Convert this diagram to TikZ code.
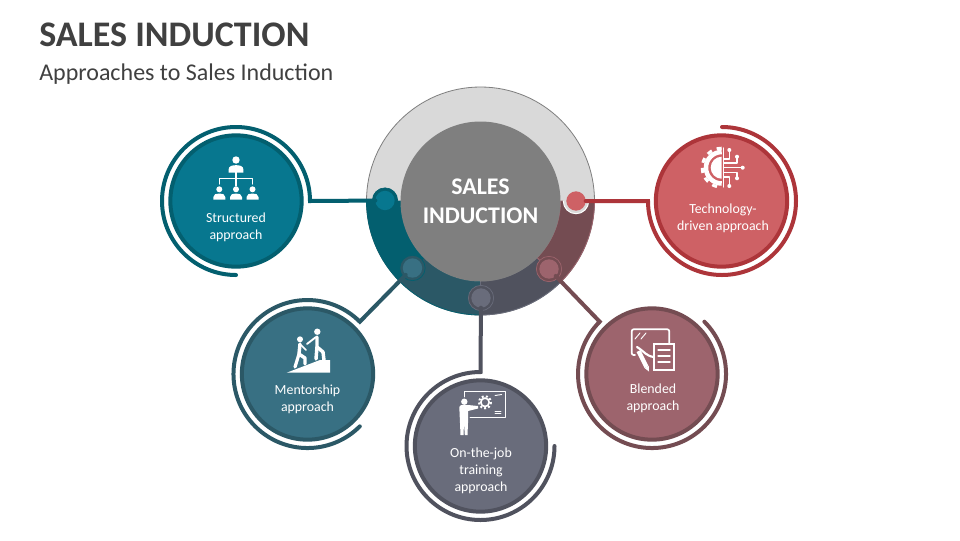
\documentclass[tikz,border=0pt]{standalone}
\usepackage{fontspec}
\setmainfont{Carlito}
\usetikzlibrary{calc}

\definecolor{tealdisc}{HTML}{07778F}
\definecolor{tealdark}{HTML}{035F6F}
\definecolor{mentordisc}{HTML}{387083}
\definecolor{mentordark}{HTML}{2B5866}
\definecolor{trainingdisc}{HTML}{696C7B}
\definecolor{trainingdark}{HTML}{50525E}
\definecolor{blendeddisc}{HTML}{9D646D}
\definecolor{blendeddark}{HTML}{744C52}
\definecolor{techdisc}{HTML}{CE6165}
\definecolor{techdark}{HTML}{AD353A}
\definecolor{hublight}{HTML}{D9D9D9}
\definecolor{hubgray}{HTML}{7F7F7F}
\definecolor{titlegray}{HTML}{404040}

\tikzset{
  disc/.style={circle, draw=#1, line width=3pt, minimum size=98.5pt, inner sep=0pt},
  hubdot/.style={circle, minimum size=14.5pt, inner sep=0pt, outer sep=0pt},
  blob/.style={circle, minimum size=19pt, inner sep=0pt, outer sep=0pt, line width=0.5pt},
  ring/.style={draw=#1, line width=3pt, line cap=round, line join=miter},
  approach/.style={text=white, align=center, inner sep=0pt, font=\fontsize{10.4}{12.75}\selectfont},
  icon/.style={draw=white, line width=#1, line cap=round, line join=round}
}

% person with a round head and a domed body
\newcommand{\orgperson}[3]{
  \fill[white, shift={(#1,#2)}, scale=#3] (0,0) circle (1)
    (-2,3.4) -- (-2,2.6) .. controls (-2,1.6) and (-1,1.4) .. (0,1.4)
    .. controls (1,1.4) and (2,1.6) .. (2,2.6) -- (2,3.4) -- cycle;
}

\begin{document}
\begin{tikzpicture}[x=0.75pt, y=-0.75pt]
\useasboundingbox (0,0) rectangle (960,540);
\fill[white] (0,0) rectangle (960,540);

\node[anchor=west, inner sep=0pt, text=titlegray, font=\fontsize{27}{32}\selectfont\bfseries] (title) at (39,34.5) {SALES INDUCTION};
\node[anchor=west, inner sep=0pt, text=titlegray, font=\fontsize{18}{22}\selectfont] (subtitle) at (39,74.5) {Approaches to Sales Induction};

%hub ring
\filldraw[fill=hublight, draw=hubgray, line width=0.6pt] (480.5,201) circle (114);

%coloured bands under the hub
\begin{scope}[shift={(480.5,201)}]
\filldraw[fill=tealdark, draw=tealdark, line width=0.6pt] (180:114) arc (180:135:114) -- (135:80) arc (135:180:80) -- cycle;
\filldraw[fill=mentordark, draw=tealdark, line width=0.6pt] (135:114) arc (135:90:114) -- (90:80) arc (90:135:80) -- cycle;
\filldraw[fill=trainingdark, draw=trainingdisc, line width=0.6pt] (90:114) arc (90:45:114) -- (45:80) arc (45:90:80) -- cycle;
\filldraw[fill=blendeddark, draw=blendeddisc, line width=0.6pt] (45:114) arc (45:0:114) -- (0:80) arc (0:45:80) -- cycle;
\end{scope}

\node[blob, fill=tealdark, draw=tealdark] (blobstructured) at (385,200.5) {};
\node[blob, fill=mentordark, draw=tealdark] (blobmentor) at (412.5,268) {};
\node[blob, fill=trainingdark, draw=trainingdisc] (blobtraining) at (481,298) {};
\node[blob, fill=blendeddark, draw=blendeddisc] (blobblended) at (549,269) {};
\node[blob, fill=hublight, draw=hublight] (blobtech) at (576,201) {};
\draw[white, line width=0.7pt] (blobtech.east) arc (0:180:12.7);

\node[circle, fill=hubgray, minimum size=120pt, inner sep=0pt] (hub) at (480.5,201.5) {};
\node[text=white, align=center, inner sep=0pt, font=\fontsize{17.9}{21.75}\selectfont\bfseries] (hubtext) at (480.5,201) {SALES\\INDUCTION};

\node[hubdot, fill=tealdisc] (dotstructured) at (385,200.5) {};
\node[hubdot, fill=mentordisc] (dotmentor) at (412.5,268) {};
\node[hubdot, fill=trainingdisc] (dottraining) at (481,298) {};
\node[hubdot, fill=blendeddisc] (dotblended) at (549,269) {};
\node[hubdot, fill=techdisc] (dottech) at (576,201) {};

%satellite discs
\node[disc=tealdark, fill=tealdisc] (structured) at (236,201) {};
\node[disc=mentordark, fill=mentordisc] (mentor) at (307.5,374) {};
\node[disc=trainingdark, fill=trainingdisc] (training) at (480.5,446) {};
\node[disc=blendeddark, fill=blendeddisc] (blended) at (652,374) {};
\node[disc=techdark, fill=techdisc] (tech) at (721.5,201) {};

%elbows where the connector meets the open ring
\coordinate (elbowstructured) at (310,201);
\coordinate (elbowmentor) at (359.8,321.7);
\coordinate (elbowtraining) at (480.5,372);
\coordinate (elbowblended) at (599.7,321.7);
\coordinate (elbowtech) at (648,201);

%connectors running on into the rings
\draw[ring=tealdark] (dotstructured) -- (elbowstructured) arc (0:-270:74);
\draw[ring=mentordark] (dotmentor) -- (elbowmentor) arc (-45:-315:74);
\draw[ring=trainingdark] (dottraining) -- (elbowtraining) arc (-90:-360:74);
\draw[ring=blendeddark] (dotblended) -- (elbowblended) arc (-135:-405:74);
\draw[ring=techdark] (dottech) -- (elbowtech) arc (180:-90:74);

%labels
\node[approach] (labelstructured) at (236,227) {Structured\\approach};
\node[approach] (labelmentor) at (307.5,399) {Mentorship\\approach};
\node[approach] (labeltraining) at (481,470.5) {On-the-job\\training\\approach};
\node[approach] (labelblended) at (653,398) {Blended\\approach};
\node[approach] (labeltech) at (723,218) {Technology-\\driven approach};

%icon structured
\orgperson{236}{160}{3.7}
\orgperson{219.3}{189.3}{3}
\orgperson{236}{189.3}{3}
\orgperson{252.5}{189.3}{3}
\draw[icon=0.9pt] (236,172) -- (236,186);
\draw[icon=0.9pt] (219.3,184) -- (219.3,178.3) -- (252.5,178.3) -- (252.5,184);

%icon mentor
\fill[white] (286.7,372.7) -- (320,360) -- (330,360) -- (330,372.7) -- cycle;
\fill[white] (317.3,331.7) circle (3.2);
\fill[white] (300,339.3) circle (3);
\draw[icon=2.6pt] (317,337) -- (317,347) -- (323,352) -- (324,360);
\draw[icon=2.6pt] (317,347) -- (316,359);
\draw[icon=1.4pt] (316,337) -- (307,344);
\draw[icon=2.6pt] (300,344) -- (299,354) -- (305,358) -- (305,364);
\draw[icon=2.4pt] (299,354) -- (295,367);
\draw[icon=1.3pt] (301,345) -- (306,350);

%icon training
\draw[icon=0.7pt] (464,397) -- (464,391.7) -- (505.7,391.7) -- (505.7,417.3) -- (470,417.3);
\draw[icon=0.7pt] (495,395.5) -- (501.7,394.5);
\draw[icon=0.7pt] (495,411.7) -- (501,411.7);
\draw[icon=0.7pt] (495,413.7) -- (501,413.7);
\fill[white] (464.3,401.7) circle (3.2);
\fill[white] (459.3,407) -- (461,405) -- (468,405) -- (478,406) -- (478,408.5) -- (468,411) -- (468,423) -- (467.5,435) -- (464.8,435) -- (464,423) -- (463.5,435) -- (460.5,435) -- (460,423) -- cycle;
\draw[white, line width=1.2pt] (485,402.3) circle (4.2);
\draw[white, line width=1.5pt, dash pattern=on 1.5pt off 1.6pt] (485,402.3) circle (6);

%icon blended
\draw[icon=1.3pt, rounded corners=1.5pt] (635,355) -- (631.7,355) -- (631.7,329.3) -- (669.3,329.3) -- (669.3,344);
\draw[icon=0.7pt] (640,333) -- (635,339);
\draw[icon=0.7pt] (646,333) -- (641,339);
\filldraw[fill=blendeddisc, draw=white, line width=1.2pt] (654,344) rectangle (674,370);
\draw[icon=1pt] (658,350) -- (670,350);
\draw[icon=1pt] (658,356) -- (670,356);
\draw[icon=1pt] (658,362) -- (670,362);
\draw[icon=1.6pt] (654,357) .. controls (646,356) and (645,352) .. (637,347);
\draw[icon=3.2pt, line cap=butt] (638.5,351) -- (646.5,367);
\fill[white] (644.5,368) -- (648.8,366) -- (649,371.5) -- cycle;

%icon tech
\draw[white, line width=3.4pt] (721.7,152) arc (-90:-270:15.75);
\draw[white, line width=2.25pt, dash pattern=on 3.8pt off 3.9pt] (721.7,148.2) arc (-90:-270:19.5);
\fill[white] (721.7,156.7) arc (-90:-270:11) -- cycle;
\fill[white] (729.3,150) circle (2);
\fill[white] (737,156.7) circle (2);
\fill[white] (742.7,167.7) circle (2);
\fill[white] (737,178.3) circle (2);
\fill[white] (729.3,186) circle (2);
\draw[icon=0.8pt] (723.5,148) -- (723.5,187);
\draw[icon=0.8pt] (723.5,159) -- (729.3,159) -- (729.3,150);
\draw[icon=0.8pt] (723.5,163) -- (737,163) -- (737,156.7);
\draw[icon=0.8pt] (723.5,167.7) -- (742.7,167.7);
\draw[icon=0.8pt] (723.5,172.5) -- (737,172.5) -- (737,178.3);
\draw[icon=0.8pt] (723.5,177) -- (729.3,177) -- (729.3,186);
\end{tikzpicture}
\end{document}
